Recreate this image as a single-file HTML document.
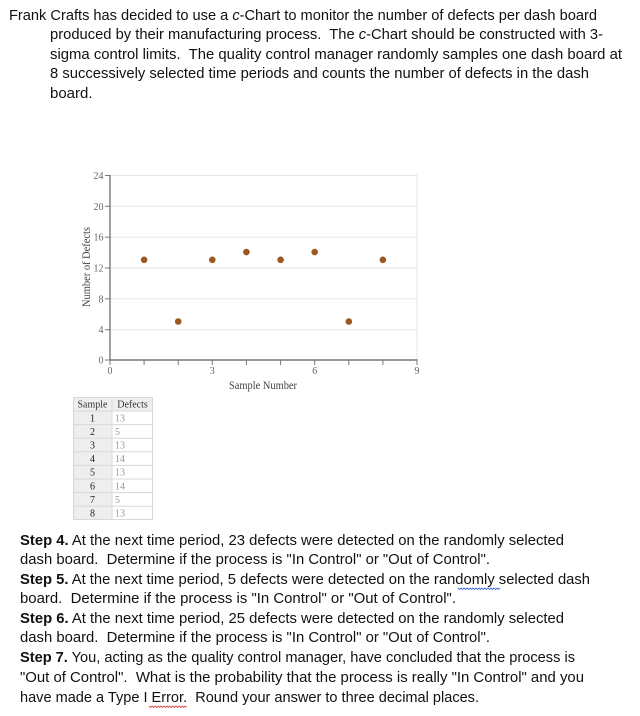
<!DOCTYPE html>
<html>
<head>
<meta charset="utf-8">
<style>
  html,body{margin:0;padding:0;background:#fff;}
  svg{display:block;}
  .body{font-family:"Liberation Sans",sans-serif;font-size:15px;fill:#111;white-space:pre;}
  .serif{font-family:"Liberation Serif",serif;}
</style>
</head>
<body>
<svg width="640" height="716" viewBox="0 0 640 716" xmlns="http://www.w3.org/2000/svg">
  <rect width="640" height="716" fill="#fff"/>

  <!-- Top paragraph -->
  <text class="body" x="9" y="20" textLength="588" lengthAdjust="spacingAndGlyphs">Frank Crafts has decided to use a <tspan font-style="italic">c</tspan>-Chart to monitor the number of defects per dash board</text>
  <text class="body" x="50" y="39" textLength="553" lengthAdjust="spacingAndGlyphs">produced by their manufacturing process.  The <tspan font-style="italic">c</tspan>-Chart should be constructed with 3-</text>
  <text class="body" x="50" y="59" textLength="572" lengthAdjust="spacingAndGlyphs">sigma control limits.  The quality control manager randomly samples one dash board at</text>
  <text class="body" x="50" y="78" textLength="539" lengthAdjust="spacingAndGlyphs">8 successively selected time periods and counts the number of defects in the dash</text>
  <text class="body" x="50" y="98">board.</text>

  <!-- Chart gridlines -->
  <g stroke="#e6e6e6" stroke-width="1">
    <line x1="110" y1="175.5" x2="417" y2="175.5"/>
    <line x1="110" y1="206.3" x2="417" y2="206.3"/>
    <line x1="110" y1="237.2" x2="417" y2="237.2"/>
    <line x1="110" y1="268" x2="417" y2="268"/>
    <line x1="110" y1="298.8" x2="417" y2="298.8"/>
    <line x1="110" y1="329.7" x2="417" y2="329.7"/>
    <line x1="417" y1="175" x2="417" y2="360"/>
  </g>

  <!-- Axes -->
  <g stroke="#777" stroke-width="1.4">
    <line x1="110" y1="175" x2="110" y2="360.5"/>
    <line x1="110" y1="360" x2="417.5" y2="360"/>
  </g>
  <g stroke="#777" stroke-width="1">
    <line x1="105" y1="175.5" x2="110" y2="175.5"/>
    <line x1="105" y1="206.3" x2="110" y2="206.3"/>
    <line x1="105" y1="237.2" x2="110" y2="237.2"/>
    <line x1="105" y1="268" x2="110" y2="268"/>
    <line x1="105" y1="298.8" x2="110" y2="298.8"/>
    <line x1="105" y1="329.7" x2="110" y2="329.7"/>
    <line x1="105" y1="360" x2="110" y2="360"/>
    <line x1="110" y1="360" x2="110" y2="365"/>
    <line x1="144.1" y1="360" x2="144.1" y2="365"/>
    <line x1="178.2" y1="360" x2="178.2" y2="365"/>
    <line x1="212.3" y1="360" x2="212.3" y2="365"/>
    <line x1="246.4" y1="360" x2="246.4" y2="365"/>
    <line x1="280.6" y1="360" x2="280.6" y2="365"/>
    <line x1="314.7" y1="360" x2="314.7" y2="365"/>
    <line x1="348.8" y1="360" x2="348.8" y2="365"/>
    <line x1="382.9" y1="360" x2="382.9" y2="365"/>
    <line x1="417" y1="360" x2="417" y2="365"/>
  </g>

  <g class="serif" font-size="10" fill="#666" text-anchor="end">
    <text x="103.5" y="179">24</text>
    <text x="103.5" y="209.8">20</text>
    <text x="103.5" y="240.7">16</text>
    <text x="103.5" y="271.5">12</text>
    <text x="103.5" y="302.3">8</text>
    <text x="103.5" y="333.2">4</text>
    <text x="103.5" y="363.5">0</text>
  </g>
  <g class="serif" font-size="10" fill="#666" text-anchor="middle">
    <text x="110" y="374">0</text>
    <text x="212.3" y="374">3</text>
    <text x="314.7" y="374">6</text>
    <text x="417" y="374">9</text>
  </g>
  <text class="serif" x="229" y="389" font-size="12" fill="#444" textLength="68" lengthAdjust="spacingAndGlyphs">Sample Number</text>
  <text class="serif" x="-40" y="0" font-size="12" fill="#444" textLength="80" lengthAdjust="spacingAndGlyphs" transform="translate(90,267) rotate(-90)">Number of Defects</text>

  <g fill="#9E581D">
    <circle cx="144.1" cy="259.8" r="3.3"/>
    <circle cx="178.2" cy="321.5" r="3.3"/>
    <circle cx="212.3" cy="259.8" r="3.3"/>
    <circle cx="246.4" cy="252.1" r="3.3"/>
    <circle cx="280.6" cy="259.8" r="3.3"/>
    <circle cx="314.7" cy="252.1" r="3.3"/>
    <circle cx="348.8" cy="321.5" r="3.3"/>
    <circle cx="382.9" cy="259.8" r="3.3"/>
  </g>

  <!-- Table -->
  <g>
    <rect x="73" y="397" width="80" height="14" fill="#efefef"/>
    <rect x="73" y="411" width="39" height="109" fill="#eeeeee"/>
    <rect x="112" y="411" width="41" height="109" fill="#ffffff"/>
    <g stroke="#d8d8d8" stroke-width="1" fill="none">
      <rect x="73.5" y="397.5" width="79" height="122"/>
      <line x1="112" y1="397" x2="112" y2="520"/>
      <line x1="73" y1="411" x2="153" y2="411"/>
      <line x1="73" y1="424.6" x2="153" y2="424.6"/>
      <line x1="73" y1="438.2" x2="153" y2="438.2"/>
      <line x1="73" y1="451.8" x2="153" y2="451.8"/>
      <line x1="73" y1="465.4" x2="153" y2="465.4"/>
      <line x1="73" y1="479" x2="153" y2="479"/>
      <line x1="73" y1="492.6" x2="153" y2="492.6"/>
      <line x1="73" y1="506.2" x2="153" y2="506.2"/>
    </g>
    <g class="serif" font-size="10" fill="#333" text-anchor="middle">
      <text x="92.5" y="407.5">Sample</text>
      <text x="132.5" y="407.5">Defects</text>
    </g>
    <g class="serif" font-size="10" fill="#222" text-anchor="middle">
      <text x="92.5" y="421.3">1</text>
      <text x="92.5" y="434.9">2</text>
      <text x="92.5" y="448.5">3</text>
      <text x="92.5" y="462.1">4</text>
      <text x="92.5" y="475.7">5</text>
      <text x="92.5" y="489.3">6</text>
      <text x="92.5" y="502.9">7</text>
      <text x="92.5" y="516.5">8</text>
    </g>
    <g class="serif" font-size="10" fill="#999">
      <text x="115" y="421.3">13</text>
      <text x="115" y="434.9">5</text>
      <text x="115" y="448.5">13</text>
      <text x="115" y="462.1">14</text>
      <text x="115" y="475.7">13</text>
      <text x="115" y="489.3">14</text>
      <text x="115" y="502.9">5</text>
      <text x="115" y="516.5">13</text>
    </g>
  </g>

  <!-- Bottom steps -->
  <text class="body" x="20" y="545" textLength="544" lengthAdjust="spacingAndGlyphs"><tspan font-weight="bold">Step 4.</tspan> At the next time period, 23 defects were detected on the randomly selected</text>
  <text class="body" x="20" y="564" textLength="470" lengthAdjust="spacingAndGlyphs">dash board.  Determine if the process is "In Control" or "Out of Control".</text>
  <text class="body" x="20" y="584" textLength="570" lengthAdjust="spacingAndGlyphs"><tspan font-weight="bold">Step 5.</tspan> At the next time period, 5 defects were detected on the randomly selected dash</text>
  <text class="body" x="20" y="603" textLength="436" lengthAdjust="spacingAndGlyphs">board.  Determine if the process is "In Control" or "Out of Control".</text>
  <text class="body" x="20" y="623" textLength="544" lengthAdjust="spacingAndGlyphs"><tspan font-weight="bold">Step 6.</tspan> At the next time period, 25 defects were detected on the randomly selected</text>
  <text class="body" x="20" y="642" textLength="470" lengthAdjust="spacingAndGlyphs">dash board.  Determine if the process is "In Control" or "Out of Control".</text>
  <text class="body" x="20" y="662" textLength="555" lengthAdjust="spacingAndGlyphs"><tspan font-weight="bold">Step 7.</tspan> You, acting as the quality control manager, have concluded that the process is</text>
  <text class="body" x="20" y="682" textLength="564" lengthAdjust="spacingAndGlyphs">"Out of Control".  What is the probability that the process is really "In Control" and you</text>
  <text class="body" x="20" y="702" textLength="459" lengthAdjust="spacingAndGlyphs">have made a Type I Error.  Round your answer to three decimal places.</text>

  <path d="M458 588 l1.5 1.5 l1.5 -1.5 l1.5 1.5 l1.5 -1.5 l1.5 1.5 l1.5 -1.5 l1.5 1.5 l1.5 -1.5 l1.5 1.5 l1.5 -1.5 l1.5 1.5 l1.5 -1.5 l1.5 1.5 l1.5 -1.5 l1.5 1.5 l1.5 -1.5 l1.5 1.5 l1.5 -1.5 l1.5 1.5 l1.5 -1.5 l1.5 1.5 l1.5 -1.5 l1.5 1.5 l1.5 -1.5 l1.5 1.5 l1.5 -1.5 l1.5 1.5 l1.5 -1.5" fill="none" stroke="#4a6fd6" stroke-width="0.9"/>
  <path d="M149 706 l1.5 1.5 l1.5 -1.5 l1.5 1.5 l1.5 -1.5 l1.5 1.5 l1.5 -1.5 l1.5 1.5 l1.5 -1.5 l1.5 1.5 l1.5 -1.5 l1.5 1.5 l1.5 -1.5 l1.5 1.5 l1.5 -1.5 l1.5 1.5 l1.5 -1.5 l1.5 1.5 l1.5 -1.5 l1.5 1.5 l1.5 -1.5 l1.5 1.5 l1.5 -1.5 l1.5 1.5 l1.5 -1.5 l1.5 1.5" fill="none" stroke="#d9534f" stroke-width="0.9"/>
</svg>
</body>
</html>
